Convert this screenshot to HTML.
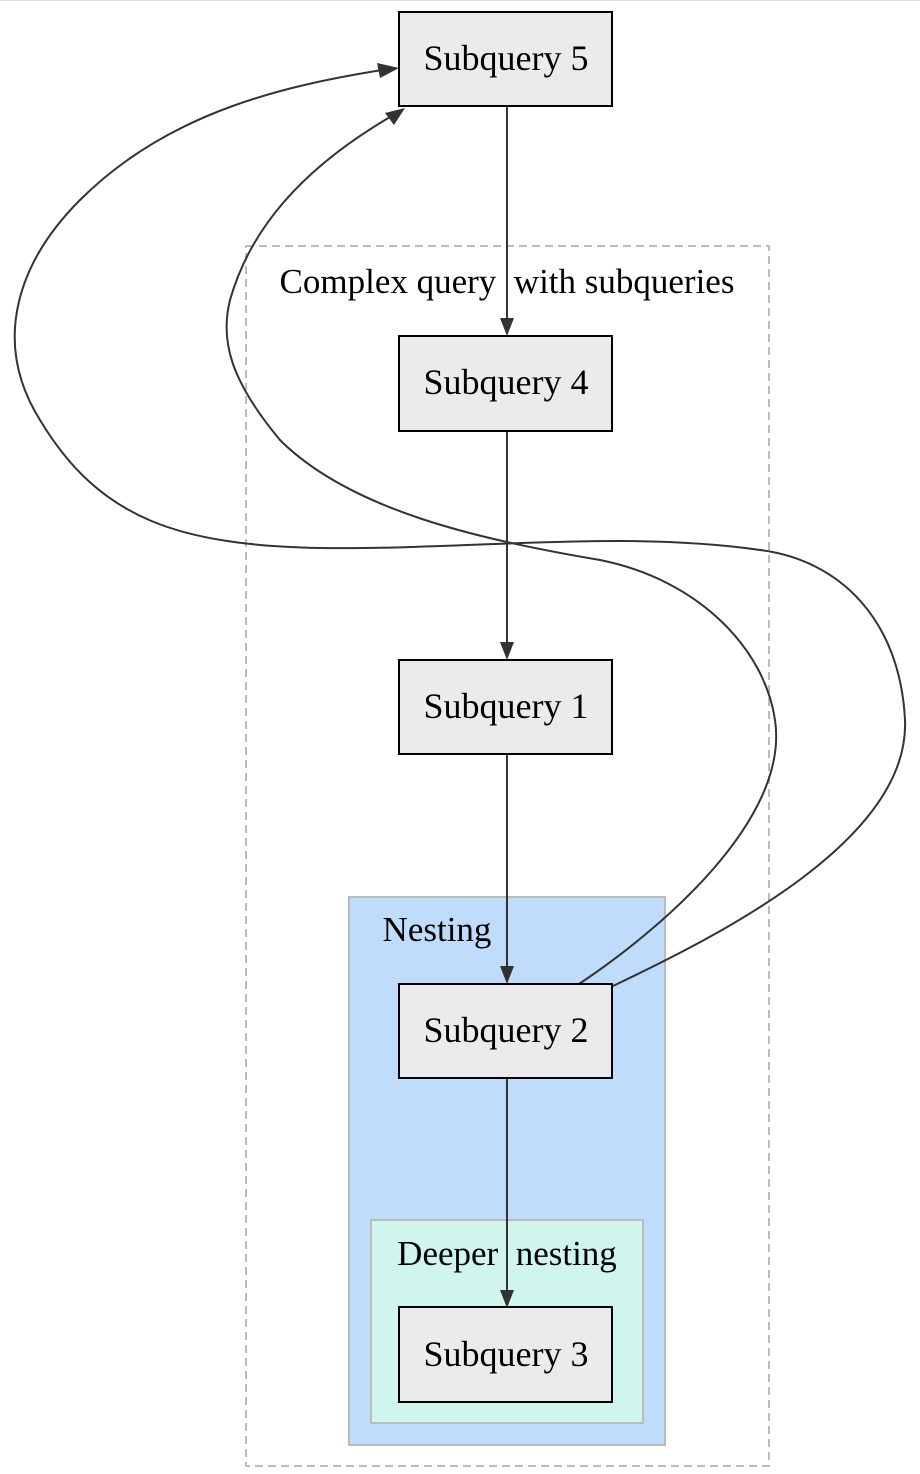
<!DOCTYPE html>
<html><head><meta charset="utf-8"><style>
html,body{margin:0;padding:0;background:#fff;}
svg{display:block;}
text{white-space:pre;}
</style></head><body>
<svg width="920" height="1474" viewBox="0 0 920 1474" xmlns="http://www.w3.org/2000/svg">
<rect x="0" y="0" width="920" height="1" fill="#ddd"/>
<rect x="246" y="246" width="523" height="1220" fill="none" stroke="#bbb" stroke-width="2" stroke-dasharray="8,5"/>
<rect x="349" y="897" width="316" height="548" fill="#c0dcfd" stroke="#bbb" stroke-width="2"/>
<rect x="371" y="1220" width="272" height="203" fill="#cff5ec" stroke="#bbb" stroke-width="2"/>

<g fill="none" stroke="#333" stroke-width="2">
<path d="M507,106 L507,318" />
<path d="M507,431 L507,642" />
<path d="M507,754 L507,966" />
<path d="M507,1078 L507,1290" />
<path d="M613,986 C720,935 910,840 905,720 C900,620 840,560 760,550 C620,530 470,550 320,548 C180,545 100,520 40,420 C-10,340 20,260 80,200 C170,110 290,85 382,70" />
<path d="M579,984 C660,930 790,820 775,720 C765,650 700,580 600,560 C480,540 350,510 280,440 C230,380 220,340 230,300 C250,230 300,170 390,117" />
</g>
<path d="M500,318 L514,318 L507,336 z" fill="#333"/>
<path d="M500,642 L514,642 L507,660 z" fill="#333"/>
<path d="M500,966 L514,966 L507,984 z" fill="#333"/>
<path d="M500,1290 L514,1290 L507,1308 z" fill="#333"/>
<path d="M399,68 L380,78 L377,63 z" fill="#333"/>
<path d="M405,108 L394,125 L385,113 z" fill="#333"/>

<g fill="#ebebeb" stroke="#000" stroke-width="2">
<rect x="399" y="12" width="213" height="94"/>
<rect x="399" y="336" width="213" height="95"/>
<rect x="399" y="660" width="213" height="94"/>
<rect x="399" y="984" width="213" height="94"/>
<rect x="399" y="1307" width="213" height="95"/>
</g>
<g text-anchor="middle" style="font-family:'Liberation Serif',serif;font-size:36px;fill:#000">
<text x="507" y="293" xml:space="preserve" style="font-size:35px">Complex query  with subqueries</text>
<text x="437" y="941" style="font-size:35px">Nesting</text>
<text x="507" y="1265" xml:space="preserve" style="font-size:35px">Deeper  nesting</text>
<text x="506" y="70">Subquery 5</text>
<text x="506" y="394">Subquery 4</text>
<text x="506" y="718">Subquery 1</text>
<text x="506" y="1042">Subquery 2</text>
<text x="506" y="1366">Subquery 3</text>
</g>
</svg>
</body></html>
